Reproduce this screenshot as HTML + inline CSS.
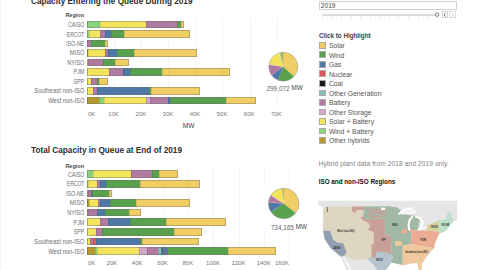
<!DOCTYPE html><html><head><meta charset="utf-8"><style>
*{margin:0;padding:0;box-sizing:border-box}
html,body{width:480px;height:270px;overflow:hidden;background:#fff;font-family:"Liberation Sans",sans-serif}
.abs{position:absolute}
.edge{position:absolute;left:0;top:0;width:1px;height:270px;background:#f5f5f5}
.title{position:absolute;left:30.9px;font-size:9px;font-weight:700;color:#2e2e2e;white-space:nowrap;transform-origin:0 0;line-height:10px}
.gl{position:absolute;width:1px;background:#f4f4f4}
.rh{position:absolute;left:40px;width:44px;text-align:right;font-size:6.1px;font-weight:700;color:#4a4a4a;line-height:7px;transform:scaleX(0.9);transform-origin:100% 50%}
.rl{position:absolute;left:4px;width:80.4px;text-align:right;font-size:6.3px;color:#6e6e6e;line-height:8px;white-space:nowrap;transform-origin:100% 50%}
.bar{position:absolute;overflow:hidden}
.bar i{position:absolute;top:0;bottom:0;border-left:0.5px solid rgba(0,0,0,0.1)}
.bar:after{content:"";position:absolute;left:0;top:0;right:0;bottom:0;border:0.8px solid rgba(110,110,110,0.42)}
.al{position:absolute;font-size:6px;color:#777;line-height:7px;white-space:nowrap}
.mw{position:absolute;font-size:6.6px;color:#444;line-height:8px}
.pt{position:absolute;font-size:6.4px;color:#666;line-height:7px;white-space:nowrap}
.pt b{font-weight:400;color:#444;font-size:6.3px;position:relative;top:-1px}
.lg-t{position:absolute;left:318.9px;top:32.2px;font-size:6.3px;font-weight:700;color:#444;line-height:8px;white-space:nowrap}
.lg{position:absolute;left:319.3px;width:7.1px;height:6.9px;border:0.7px solid #aaa}
.lt{position:absolute;left:328.9px;font-size:6.8px;color:#555;line-height:8px;white-space:nowrap}
</style></head><body>
<div class="edge"></div>
<div class="title" style="top:-4.2px;transform:scaleX(0.912)">Capacity Entering the Queue During 2019</div>
<div class="gl" style="left:114.00px;top:19px;height:88px"></div>
<div class="gl" style="left:141.10px;top:19px;height:88px"></div>
<div class="gl" style="left:168.20px;top:19px;height:88px"></div>
<div class="gl" style="left:195.30px;top:19px;height:88px"></div>
<div class="gl" style="left:222.40px;top:19px;height:88px"></div>
<div class="gl" style="left:249.50px;top:19px;height:88px"></div>
<div class="gl" style="left:276.60px;top:19px;height:88px"></div>
<div class="rh" style="top:11.4px">Region</div>
<div class="rl" style="top:21.05px;transform:scaleX(0.842)">CAISO</div>
<div class="bar" style="left:87.1px;top:21.00px;width:97.00px;height:7.3px"><i style="left:0.00px;width:13.40px;background:#8cd17d"></i><i style="left:13.40px;width:45.70px;background:#f2e45c"></i><i style="left:59.10px;width:30.50px;background:#b07aa1"></i><i style="left:89.60px;width:4.50px;background:#59a14f"></i><i style="left:94.10px;right:0;background:#f1ce63"></i></div>
<div class="rl" style="top:30.53px;transform:scaleX(0.798)">ERCOT</div>
<div class="bar" style="left:87.1px;top:30.48px;width:103.40px;height:7.3px"><i style="left:0.00px;width:1.90px;background:#8cd17d"></i><i style="left:1.90px;width:11.00px;background:#f2e45c"></i><i style="left:12.90px;width:4.80px;background:#b07aa1"></i><i style="left:17.70px;width:6.00px;background:#4e79a7"></i><i style="left:23.70px;width:13.00px;background:#59a14f"></i><i style="left:36.70px;right:0;background:#f1ce63"></i></div>
<div class="rl" style="top:40.01px;transform:scaleX(0.843)">ISO-NE</div>
<div class="bar" style="left:87.1px;top:39.96px;width:20.70px;height:7.3px"><i style="left:0.00px;width:4.20px;background:#b07aa1"></i><i style="left:4.20px;width:13.70px;background:#59a14f"></i><i style="left:17.90px;right:0;background:#f1ce63"></i></div>
<div class="rl" style="top:49.49px;transform:scaleX(0.906)">MISO</div>
<div class="bar" style="left:87.1px;top:49.44px;width:110.40px;height:7.3px"><i style="left:0.00px;width:0.90px;background:#b6992d"></i><i style="left:0.90px;width:17.10px;background:#f2e45c"></i><i style="left:18.00px;width:2.50px;background:#b07aa1"></i><i style="left:20.50px;width:9.40px;background:#4e79a7"></i><i style="left:29.90px;width:16.80px;background:#59a14f"></i><i style="left:46.70px;right:0;background:#f1ce63"></i></div>
<div class="rl" style="top:58.97px;transform:scaleX(0.872)">NYISO</div>
<div class="bar" style="left:87.1px;top:58.92px;width:42.00px;height:7.3px"><i style="left:0.00px;width:0.90px;background:#f2e45c"></i><i style="left:0.90px;width:14.80px;background:#b07aa1"></i><i style="left:15.70px;width:11.90px;background:#59a14f"></i><i style="left:27.60px;right:0;background:#f1ce63"></i></div>
<div class="rl" style="top:68.45px;transform:scaleX(0.865)">PJM</div>
<div class="bar" style="left:87.1px;top:68.40px;width:142.90px;height:7.3px"><i style="left:0.00px;width:21.70px;background:#f2e45c"></i><i style="left:21.70px;width:14.20px;background:#b07aa1"></i><i style="left:35.90px;width:6.70px;background:#4e79a7"></i><i style="left:42.60px;width:32.80px;background:#59a14f"></i><i style="left:75.40px;right:0;background:#f1ce63"></i></div>
<div class="rl" style="top:77.93px;transform:scaleX(0.848)">SPP</div>
<div class="bar" style="left:87.1px;top:77.88px;width:21.20px;height:7.3px"><i style="left:0.00px;width:4.10px;background:#f2e45c"></i><i style="left:4.10px;width:5.50px;background:#b07aa1"></i><i style="left:9.60px;width:2.80px;background:#59a14f"></i><i style="left:12.40px;right:0;background:#f1ce63"></i></div>
<div class="rl" style="top:87.41px;transform:scaleX(0.937)">Southeast non-ISO</div>
<div class="bar" style="left:87.1px;top:87.36px;width:113.20px;height:7.3px"><i style="left:0.00px;width:5.90px;background:#f2e45c"></i><i style="left:5.90px;width:3.70px;background:#b07aa1"></i><i style="left:9.60px;width:52.00px;background:#4e79a7"></i><i style="left:61.60px;width:2.60px;background:#59a14f"></i><i style="left:64.20px;right:0;background:#f1ce63"></i></div>
<div class="rl" style="top:96.89px;transform:scaleX(0.918)">West non-ISO</div>
<div class="bar" style="left:87.1px;top:96.84px;width:168.70px;height:7.3px"><i style="left:0.00px;width:11.70px;background:#b6992d"></i><i style="left:11.70px;width:5.40px;background:#8cd17d"></i><i style="left:17.10px;width:42.00px;background:#f2e45c"></i><i style="left:59.10px;width:4.10px;background:#d4a6c8"></i><i style="left:63.20px;width:17.70px;background:#b07aa1"></i><i style="left:80.90px;width:2.30px;background:#4e79a7"></i><i style="left:83.20px;width:55.90px;background:#59a14f"></i><i style="left:139.10px;right:0;background:#f1ce63"></i></div>
<div class="al" style="left:87.90px;top:110.7px">0K</div>
<div class="al" style="left:93.70px;width:40px;text-align:center;top:110.7px">10K</div>
<div class="al" style="left:120.80px;width:40px;text-align:center;top:110.7px">20K</div>
<div class="al" style="left:147.90px;width:40px;text-align:center;top:110.7px">30K</div>
<div class="al" style="left:175.00px;width:40px;text-align:center;top:110.7px">40K</div>
<div class="al" style="left:202.10px;width:40px;text-align:center;top:110.7px">50K</div>
<div class="al" style="left:229.20px;width:40px;text-align:center;top:110.7px">60K</div>
<div class="al" style="left:256.30px;width:40px;text-align:center;top:110.7px">70K</div>
<div class="mw" style="left:182.8px;top:122px">MW</div>
<div class="title" style="top:145.0px;transform:scaleX(0.913)">Total Capacity in Queue at End of 2019</div>
<div class="gl" style="left:112.20px;top:168px;height:89px"></div>
<div class="gl" style="left:137.50px;top:168px;height:89px"></div>
<div class="gl" style="left:162.80px;top:168px;height:89px"></div>
<div class="gl" style="left:188.10px;top:168px;height:89px"></div>
<div class="gl" style="left:213.40px;top:168px;height:89px"></div>
<div class="gl" style="left:238.70px;top:168px;height:89px"></div>
<div class="gl" style="left:264.00px;top:168px;height:89px"></div>
<div class="gl" style="left:289.30px;top:168px;height:89px"></div>
<div class="rh" style="top:161.5px">Region</div>
<div class="rl" style="top:170.50px;transform:scaleX(0.842)">CAISO</div>
<div class="bar" style="left:87.1px;top:170.30px;width:90.70px;height:7.6px"><i style="left:0.00px;width:6.20px;background:#8cd17d"></i><i style="left:6.20px;width:37.50px;background:#f2e45c"></i><i style="left:43.70px;width:20.90px;background:#b07aa1"></i><i style="left:64.60px;width:7.00px;background:#59a14f"></i><i style="left:71.60px;right:0;background:#f1ce63"></i></div>
<div class="rl" style="top:180.13px;transform:scaleX(0.798)">ERCOT</div>
<div class="bar" style="left:87.1px;top:179.93px;width:112.50px;height:7.6px"><i style="left:0.00px;width:0.90px;background:#8cd17d"></i><i style="left:0.90px;width:9.00px;background:#f2e45c"></i><i style="left:9.90px;width:2.60px;background:#b07aa1"></i><i style="left:12.50px;width:6.60px;background:#4e79a7"></i><i style="left:19.10px;width:33.80px;background:#59a14f"></i><i style="left:52.90px;right:0;background:#f1ce63"></i></div>
<div class="rl" style="top:189.75px;transform:scaleX(0.843)">ISO-NE</div>
<div class="bar" style="left:87.1px;top:189.55px;width:24.70px;height:7.6px"><i style="left:0.00px;width:0.90px;background:#8cd17d"></i><i style="left:0.90px;width:2.80px;background:#b07aa1"></i><i style="left:3.70px;width:1.20px;background:#4e79a7"></i><i style="left:4.90px;width:17.20px;background:#59a14f"></i><i style="left:22.10px;right:0;background:#f1ce63"></i></div>
<div class="rl" style="top:199.38px;transform:scaleX(0.906)">MISO</div>
<div class="bar" style="left:87.1px;top:199.18px;width:102.50px;height:7.6px"><i style="left:0.00px;width:1.60px;background:#b6992d"></i><i style="left:1.60px;width:9.30px;background:#f2e45c"></i><i style="left:10.90px;width:2.30px;background:#b07aa1"></i><i style="left:13.20px;width:9.40px;background:#4e79a7"></i><i style="left:22.60px;width:26.10px;background:#59a14f"></i><i style="left:48.70px;right:0;background:#f1ce63"></i></div>
<div class="rl" style="top:209.00px;transform:scaleX(0.872)">NYISO</div>
<div class="bar" style="left:87.1px;top:208.80px;width:54.20px;height:7.6px"><i style="left:0.00px;width:0.90px;background:#b6992d"></i><i style="left:0.90px;width:9.50px;background:#b07aa1"></i><i style="left:10.40px;width:7.80px;background:#4e79a7"></i><i style="left:18.20px;width:23.40px;background:#59a14f"></i><i style="left:41.60px;right:0;background:#f1ce63"></i></div>
<div class="rl" style="top:218.63px;transform:scaleX(0.865)">PJM</div>
<div class="bar" style="left:87.1px;top:218.43px;width:138.70px;height:7.6px"><i style="left:0.00px;width:12.60px;background:#f2e45c"></i><i style="left:12.60px;width:8.60px;background:#b07aa1"></i><i style="left:21.20px;width:22.20px;background:#4e79a7"></i><i style="left:43.40px;width:35.30px;background:#59a14f"></i><i style="left:78.70px;right:0;background:#f1ce63"></i></div>
<div class="rl" style="top:228.25px;transform:scaleX(0.848)">SPP</div>
<div class="bar" style="left:87.1px;top:228.05px;width:115.40px;height:7.6px"><i style="left:0.00px;width:8.70px;background:#f2e45c"></i><i style="left:8.70px;width:5.90px;background:#b07aa1"></i><i style="left:14.60px;width:72.10px;background:#59a14f"></i><i style="left:86.70px;right:0;background:#f1ce63"></i></div>
<div class="rl" style="top:237.88px;transform:scaleX(0.937)">Southeast non-ISO</div>
<div class="bar" style="left:87.1px;top:237.68px;width:112.40px;height:7.6px"><i style="left:0.00px;width:2.90px;background:#f2e45c"></i><i style="left:2.90px;width:3.00px;background:#b07aa1"></i><i style="left:5.90px;width:2.80px;background:#e15759"></i><i style="left:8.70px;width:44.40px;background:#4e79a7"></i><i style="left:53.10px;width:2.10px;background:#59a14f"></i><i style="left:55.20px;right:0;background:#f1ce63"></i></div>
<div class="rl" style="top:247.50px;transform:scaleX(0.918)">West non-ISO</div>
<div class="bar" style="left:87.1px;top:247.30px;width:189.20px;height:7.6px"><i style="left:0.00px;width:7.60px;background:#b6992d"></i><i style="left:7.60px;width:2.30px;background:#8cd17d"></i><i style="left:9.90px;width:42.20px;background:#f2e45c"></i><i style="left:52.10px;width:8.10px;background:#d4a6c8"></i><i style="left:60.20px;width:11.20px;background:#b07aa1"></i><i style="left:71.40px;width:2.30px;background:#86bcb6"></i><i style="left:73.70px;width:1.30px;background:#e15759"></i><i style="left:75.00px;width:5.20px;background:#4e79a7"></i><i style="left:80.20px;width:60.70px;background:#59a14f"></i><i style="left:140.90px;right:0;background:#f1ce63"></i></div>
<div class="al" style="left:88.00px;top:260px">0K</div>
<div class="al" style="left:91.90px;width:40px;text-align:center;top:260px">20K</div>
<div class="al" style="left:117.20px;width:40px;text-align:center;top:260px">40K</div>
<div class="al" style="left:142.50px;width:40px;text-align:center;top:260px">60K</div>
<div class="al" style="left:167.80px;width:40px;text-align:center;top:260px">80K</div>
<div class="al" style="left:193.10px;width:40px;text-align:center;top:260px">100K</div>
<div class="al" style="left:218.40px;width:40px;text-align:center;top:260px">120K</div>
<div class="al" style="left:243.70px;width:40px;text-align:center;top:260px">140K</div>
<div class="al" style="left:249.00px;width:40px;text-align:right;top:260px">160K</div>
<svg class="abs" style="left:0;top:0" width="480" height="270">
<rect x="262" y="42" width="50" height="52" fill="#fff"/><rect x="262" y="186" width="50" height="46" fill="#fff"/>
<path d="M283.3,66.7 L283.30,52.20 A14.5,14.5 0 0 1 294.08,76.40 Z" fill="#f1ce63"/><path d="M283.3,66.7 L294.08,76.40 A14.5,14.5 0 0 1 278.30,80.31 Z" fill="#59a14f"/><path d="M283.3,66.7 L278.30,80.31 A14.5,14.5 0 0 1 271.57,75.23 Z" fill="#4e79a7"/><path d="M283.3,66.7 L271.57,75.23 A14.5,14.5 0 0 1 268.92,64.82 Z" fill="#b07aa1"/><path d="M283.3,66.7 L268.92,64.82 A14.5,14.5 0 0 1 268.99,64.37 Z" fill="#d4a6c8"/><path d="M283.3,66.7 L268.99,64.37 A14.5,14.5 0 0 1 279.49,52.71 Z" fill="#f2e45c"/><path d="M283.3,66.7 L279.49,52.71 A14.5,14.5 0 0 1 281.76,52.28 Z" fill="#8cd17d"/><path d="M283.3,66.7 L281.76,52.28 A14.5,14.5 0 0 1 283.30,52.20 Z" fill="#b6992d"/><circle cx="283.3" cy="66.7" r="14.5" fill="none" stroke="#999" stroke-width="0.5"/>
<path d="M283.7,203.5 L283.70,188.20 A15.3,15.3 0 0 1 295.61,213.10 Z" fill="#f1ce63"/><path d="M283.7,203.5 L295.61,213.10 A15.3,15.3 0 0 1 271.00,212.03 Z" fill="#59a14f"/><path d="M283.7,203.5 L271.00,212.03 A15.3,15.3 0 0 1 268.42,202.65 Z" fill="#4e79a7"/><path d="M283.7,203.5 L268.42,202.65 A15.3,15.3 0 0 1 268.45,202.23 Z" fill="#e15759"/><path d="M283.7,203.5 L268.45,202.23 A15.3,15.3 0 0 1 268.47,201.99 Z" fill="#86bcb6"/><path d="M283.7,203.5 L268.47,201.99 A15.3,15.3 0 0 1 270.67,195.49 Z" fill="#b07aa1"/><path d="M283.7,203.5 L270.67,195.49 A15.3,15.3 0 0 1 271.12,194.79 Z" fill="#d4a6c8"/><path d="M283.7,203.5 L271.12,194.79 A15.3,15.3 0 0 1 281.55,188.35 Z" fill="#f2e45c"/><path d="M283.7,203.5 L281.55,188.35 A15.3,15.3 0 0 1 282.53,188.24 Z" fill="#8cd17d"/><path d="M283.7,203.5 L282.53,188.24 A15.3,15.3 0 0 1 283.70,188.20 Z" fill="#b6992d"/><circle cx="283.7" cy="203.5" r="15.3" fill="none" stroke="#999" stroke-width="0.5"/>
</svg>
<div class="pt" style="left:266.5px;top:84.6px">299,072 <b>MW</b></div>
<div class="pt" style="left:270.8px;top:223.8px">734,165 <b>MW</b></div>
<div class="abs" style="left:319.1px;top:1.25px;width:137.6px;height:8.4px;border:0.8px solid #d0d0d0;background:#fff"></div>
<div class="abs" style="left:320.8px;top:1.6px;font-size:6.6px;color:#444;line-height:8px">2019</div>
<div class="abs" style="left:321.6px;top:14.1px;width:114px;height:1.6px;background:#dcdcdc;border-radius:1px"></div>
<div class="abs" style="left:322.00px;top:17.4px;width:0.7px;height:2px;background:#e2e2e2"></div>
<div class="abs" style="left:331.56px;top:17.4px;width:0.7px;height:2px;background:#e2e2e2"></div>
<div class="abs" style="left:341.12px;top:17.4px;width:0.7px;height:2px;background:#e2e2e2"></div>
<div class="abs" style="left:350.68px;top:17.4px;width:0.7px;height:2px;background:#e2e2e2"></div>
<div class="abs" style="left:360.24px;top:17.4px;width:0.7px;height:2px;background:#e2e2e2"></div>
<div class="abs" style="left:369.80px;top:17.4px;width:0.7px;height:2px;background:#e2e2e2"></div>
<div class="abs" style="left:379.36px;top:17.4px;width:0.7px;height:2px;background:#e2e2e2"></div>
<div class="abs" style="left:388.92px;top:17.4px;width:0.7px;height:2px;background:#e2e2e2"></div>
<div class="abs" style="left:398.48px;top:17.4px;width:0.7px;height:2px;background:#e2e2e2"></div>
<div class="abs" style="left:408.04px;top:17.4px;width:0.7px;height:2px;background:#e2e2e2"></div>
<div class="abs" style="left:417.60px;top:17.4px;width:0.7px;height:2px;background:#e2e2e2"></div>
<div class="abs" style="left:427.16px;top:17.4px;width:0.7px;height:2px;background:#e2e2e2"></div>
<div class="abs" style="left:436.72px;top:17.4px;width:0.7px;height:2px;background:#e2e2e2"></div>
<svg class="abs" style="left:0;top:0" width="480" height="270"><circle cx="437.1" cy="14.7" r="1.75" fill="#fff" stroke="#555" stroke-width="0.75"/></svg>
<div class="abs" style="left:441.8px;top:11.25px;width:6.1px;height:7px;border:0.7px solid #d0d0d0"></div>
<div class="abs" style="left:449.3px;top:11.25px;width:6.7px;height:7px;border:0.7px solid #dcdcdc"></div>
<svg class="abs" style="left:0;top:0" width="480" height="270"><path d="M445.7,13.2 L443.9,14.8 L445.7,16.4" fill="none" stroke="#555" stroke-width="0.9" stroke-linejoin="miter"/><path d="M451.8,13.2 L453.8,14.8 L451.8,16.4" fill="none" stroke="#ccc" stroke-width="0.8"/></svg>
<div class="lg-t">Click to Highlight</div>
<div class="lg" style="top:41.90px;background:#f1ce63"></div>
<div class="lt" style="top:42.20px">Solar</div>
<div class="lg" style="top:51.42px;background:#59a14f"></div>
<div class="lt" style="top:51.72px">Wind</div>
<div class="lg" style="top:60.94px;background:#4e79a7"></div>
<div class="lt" style="top:61.24px">Gas</div>
<div class="lg" style="top:70.46px;background:#e15759"></div>
<div class="lt" style="top:70.76px">Nuclear</div>
<div class="lg" style="top:79.98px;background:#1b1b1b"></div>
<div class="lt" style="top:80.28px">Coal</div>
<div class="lg" style="top:89.50px;background:#86bcb6"></div>
<div class="lt" style="top:89.80px">Other Generation</div>
<div class="lg" style="top:99.02px;background:#b07aa1"></div>
<div class="lt" style="top:99.32px">Battery</div>
<div class="lg" style="top:108.54px;background:#d4a6c8"></div>
<div class="lt" style="top:108.84px">Other Storage</div>
<div class="lg" style="top:118.06px;background:#f2e45c"></div>
<div class="lt" style="top:118.36px">Solar + Battery</div>
<div class="lg" style="top:127.58px;background:#8cd17d"></div>
<div class="lt" style="top:127.88px">Wind + Battery</div>
<div class="lg" style="top:137.10px;background:#b6992d"></div>
<div class="lt" style="top:137.40px">Other hybrids</div>
<div class="abs" style="left:318.7px;top:159.8px;font-size:6.6px;color:#7f7f7f;line-height:8px;white-space:nowrap;letter-spacing:0.1px">Hybrid plant data from 2018 and 2019 only.</div>
<div class="abs" style="left:318.7px;top:177.8px;font-size:6.3px;font-weight:700;color:#111;line-height:8px;white-space:nowrap">ISO and non-ISO Regions</div>
<svg class="abs" style="left:0;top:0" width="480" height="270"><rect x="318" y="200.7" width="139" height="69.3" fill="#e5e5e5"/><polygon points="316,205 318,205 325.6,208.7 322.9,210 323.3,222 322.8,226 323.2,230.8 324.8,239.2 330.7,248.3 339,255 340.2,256.1 343,262 346,268 347,271 316,271" fill="#ffffff" /><polygon points="342.7,257 344,257 348.7,264.3 351.6,271 350,271 347,264.5" fill="#ffffff" /><polygon points="457,199 482,199 482,271 421.5,271 422,263.5 427,256 432,250 434.2,248.6 435,243 438.2,235.4 439.9,232.8 440.9,233.3 446.6,230.3 449.1,226.2 454,220.5 457,220.5" fill="#ffffff" /><polygon points="385.7,271 391.5,262.5 403.8,265.6 411.6,263.3 417.2,263.1 419,271" fill="#ffffff" /><polygon points="325.6,206.6 376,206.6 376,259.2 364,259.2 360.6,259.8 352.4,259.4 345.9,256.1 340.2,256.1 339,255 330.7,248.3 324.8,239.2 323.2,230.8 322.8,226 323.3,222 322.9,210" fill="#ddd6c0" /><path d="M327.2,207 L327.5,212" stroke="#666" stroke-width="0.9"/><polygon points="323.2,230.8 329.8,230.8 333.2,240 337.3,242.5 343.2,243.3 346.5,251.7 345.5,254.1 344.8,255 341.5,256.7 339,255 330.7,248.3 324.8,239.2" fill="#909fb3" /><polygon points="351.7,206.6 364,206.6 364,210 357,210 355,213 352.5,211.5 351.7,209.5" fill="#c9a098" /><polygon points="360.4,217.2 363.3,216.5 366,219.5 370.8,218.7 384.9,218.7 384.9,234.2 390.8,235.7 391.6,252 392.7,262 376,262 371.6,258.5 371.6,243.9 373.8,243.9 373.8,232 367.9,229.8 370.1,226.8 368.6,223.1 362.7,220.1" fill="#c9a098" /><polygon points="364,206.6 390,206.2 394,207.3 396.4,207 401,210.3 398,214.4 405,214.5 411,215.5 416,216 418.3,217 420,219 419,223 418.3,229.8 418.3,230.4 412,230.4 411.3,234.5 410.9,244.2 402.7,245.5 402.7,265 391.5,262.5 392.7,256.7 391.6,252 390.8,235.7 384.9,234.2 384.9,218.7 370.8,218.7 366,219.5 363.3,216.5 364,210" fill="#a0b8a4" /><ellipse cx="372" cy="209.8" rx="3" ry="1.3" fill="#c9a098"/><ellipse cx="378.5" cy="209.5" rx="2.8" ry="1.2" fill="#c9a098"/><ellipse cx="375" cy="212.6" rx="3.5" ry="1.3" fill="#c9a098"/><ellipse cx="381" cy="212.8" rx="3" ry="1.4" fill="#c9a098"/><ellipse cx="384.5" cy="215" rx="2" ry="1.3" fill="#c9a098"/><ellipse cx="372.5" cy="216.2" rx="2.8" ry="1.0" fill="#c9a098"/><ellipse cx="378.5" cy="216.4" rx="3.5" ry="1.0" fill="#c9a098"/><ellipse cx="385" cy="210.5" rx="1.6" ry="1.6" fill="#c9a098"/><ellipse cx="369.5" cy="213.5" rx="1.5" ry="1.5" fill="#c9a098"/><rect x="381.1" y="207.6" width="3.9" height="2.4" fill="#fff"/><polygon points="412,230.4 426.3,230.4 432,230.8 439.9,232.2 438.2,235.4 435,243 434.1,248.6 429.8,247.3 410.9,244.2 411.3,234.5" fill="#ecac94" /><polygon points="401.7,229.3 407,229.3 407,233.6 401.7,233.6" fill="#ecac94" /><polygon points="409.4,229.3 411.8,229.3 411.8,232 409.4,232" fill="#ecac94" /><polygon points="402.7,245.5 410.9,244.2 429.8,247.3 434.1,248.6 432,250 427,256 422,263.5 421.5,270 419,270 417.2,263.1 411.6,263.3 403.8,265.6 402.7,265" fill="#f0c89e" /><polygon points="395.2,241.1 401.8,241.1 401.8,245.8 395.2,245.8" fill="#f0c89e" /><polygon points="376.5,251.7 384,251.7 389,253.3 392.3,255 391.5,262.5 385.7,270 377.3,270 372.3,263.3 366.5,258.3 375.7,257.5" fill="#b6c4ce" /><polygon points="426.2,225.4 433.6,222.9 439.2,220.1 439.9,232.6 432,230.8 426.3,230.4" fill="#d6d2a0" /><polygon points="439.2,220.1 445.5,219.5 447,215 448.3,212.3 450.7,212.3 452.3,218.8 454,220.5 449.1,226.2 446.6,230.3 440.9,233.3 439.9,232.6" fill="#bedecc" /><path d="M398.3,214.3 C401,211.5 405,208.6 409,208.2 C412,208.3 414,210.5 415.5,213 L414,213.6 C410,213 406,213 402,213.6 Z" fill="#f3f3f3"/><path d="M398.3,214.3 C401,211.5 405,208.6 409,208.2 C412,208.3 414,210.5 415.5,213" fill="none" stroke="#fff" stroke-width="1.6" stroke-linejoin="round"/><path d="M402,213.6 C406,213 410,213 414,213.6" fill="none" stroke="#fff" stroke-width="0.9"/><path d="M412.3,216.8 C410,218.8 408.6,221.5 408.6,225 C408.6,227 409,228.6 409.3,229.8" fill="none" stroke="#fff" stroke-width="2.1" stroke-linecap="round"/><path d="M416,216.8 C419,217.6 422,219.5 422.6,222.6 C422.5,225.5 420.5,227.8 418.6,229.6" fill="none" stroke="#fff" stroke-width="2" stroke-linecap="round"/><path d="M418.6,229.8 C421.5,228.9 424,228 427,226.9" fill="none" stroke="#fff" stroke-width="1.3" stroke-linecap="round"/><text x="337.25" y="231.8" font-size="3" font-weight="700" textLength="17.1" lengthAdjust="spacingAndGlyphs" fill="#2a2a2a" font-family="Liberation Sans">West (non-ISO)</text><text x="332.90" y="249.2" font-size="3" font-weight="700" textLength="7.6" lengthAdjust="spacingAndGlyphs" fill="#2a2a2a" font-family="Liberation Sans">CAISO</text><text x="381.55" y="241.2" font-size="3" font-weight="700" textLength="4.1" lengthAdjust="spacingAndGlyphs" fill="#2a2a2a" font-family="Liberation Sans">SPP</text><text x="392.25" y="225.6" font-size="3" font-weight="700" textLength="5.7" lengthAdjust="spacingAndGlyphs" fill="#2a2a2a" font-family="Liberation Sans">MISO</text><text x="376.15" y="261.2" font-size="3" font-weight="700" textLength="6.9" lengthAdjust="spacingAndGlyphs" fill="#2a2a2a" font-family="Liberation Sans">ERCOT</text><text x="420.40" y="240.5" font-size="3" font-weight="700" textLength="5.6" lengthAdjust="spacingAndGlyphs" fill="#2a2a2a" font-family="Liberation Sans">PJM</text><text x="405.20" y="252.8" font-size="3" font-weight="700" textLength="22.8" lengthAdjust="spacingAndGlyphs" fill="#2a2a2a" font-family="Liberation Sans">Southeast (non-ISO)</text><text x="431.00" y="228" font-size="3" font-weight="700" textLength="7" lengthAdjust="spacingAndGlyphs" fill="#2a2a2a" font-family="Liberation Sans">NYISO</text><text x="441.60" y="226.4" font-size="3" font-weight="700" textLength="7.6" lengthAdjust="spacingAndGlyphs" fill="#2a2a2a" font-family="Liberation Sans">ISO-NE</text></svg>
</body></html>
